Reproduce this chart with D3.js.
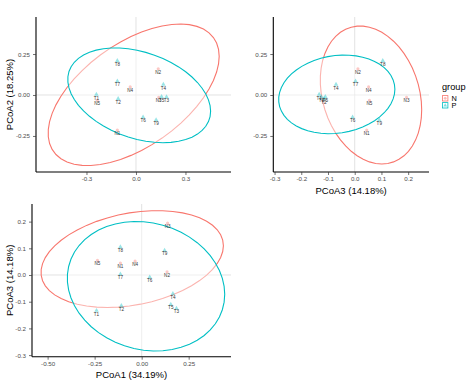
<!DOCTYPE html>
<html>
<head>
<meta charset="utf-8">
<script src="https://cdn.jsdelivr.net/npm/d3@7"></script>
<style>
  html, body { margin: 0; padding: 0; background: #fff; }
  svg { display: block; font-family: "Liberation Sans", Arial, sans-serif; }
</style>
</head>
<body>
<svg id="chart" width="474" height="385"></svg>
<script>
// ---- data ----
const samples = ["N1","N2","N3","N4","N5","T1","T2","T3","T4","T5","T6","T7","T8","T9"];
const groups  = ["N","N","N","N","N","P","P","P","P","P","P","P","P","P"];
const pcoa1   = [-0.113, 0.135, 0.138, -0.035, -0.235, -0.240, -0.108, 0.185, 0.166, 0.155, 0.043, -0.113, -0.113, 0.122];
const pcoa2   = [-0.214, 0.160, -0.014, 0.049, -0.032, 0.003, -0.022, -0.012, 0.064, -0.010, -0.135, 0.085, 0.210, -0.152];
const pcoa3   = [0.045, 0.012, 0.194, 0.052, 0.055, -0.133, -0.115, -0.125, -0.070, -0.110, -0.008, 0.003, 0.105, 0.092];
const groupNames = ["N","P"];
const axisTitles = {pcoa1: "PCoA1 (34.19%)", pcoa2: "PCoA2 (18.25%)", pcoa3: "PCoA3 (14.18%)"};
const ticks1a = [-0.3, 0.0, 0.3];
const ticks2  = [-0.25, 0.00, 0.25];
const ticks3x = [-0.3, -0.2, -0.1, 0.0, 0.1, 0.2];
const ticks1b = [-0.50, -0.25, 0.00, 0.25];
const ticks3y = [-0.3, -0.2, -0.1, 0.0, 0.1, 0.2];

const colors = d3.scaleOrdinal().domain(groupNames).range(["#F8766D", "#00BFC4"]);
const vars = {pcoa1, pcoa2, pcoa3};

// ---- stat_ellipse (type "t", level 0.95) ----
function covTrob(pts) {
  const n = pts.length, p = 2, nu = 5, tol = 0.01;
  let w = pts.map(() => 1);
  let loc = [d3.mean(pts, d => d[0]), d3.mean(pts, d => d[1])];
  let X;
  for (let iter = 0; iter < 25; iter++) {
    const w0 = w.slice();
    X = pts.map(d => [d[0] - loc[0], d[1] - loc[1]]);
    const sw = d3.sum(w);
    let s11 = 0, s12 = 0, s22 = 0;
    X.forEach((x, i) => { const f = w[i] / sw; s11 += f * x[0] * x[0]; s12 += f * x[0] * x[1]; s22 += f * x[1] * x[1]; });
    const det = s11 * s22 - s12 * s12;
    const i11 = s22 / det, i12 = -s12 / det, i22 = s11 / det;
    const Q = X.map(x => x[0] * x[0] * i11 + 2 * x[0] * x[1] * i12 + x[1] * x[1] * i22);
    w = Q.map(q => (nu + p) / (nu + q));
    const sw2 = d3.sum(w);
    loc = [d3.sum(pts, (d, i) => w[i] * d[0]) / sw2, d3.sum(pts, (d, i) => w[i] * d[1]) / sw2];
    if (w.every((v, i) => Math.abs(v - w0[i]) < tol)) break;
  }
  let c11 = 0, c12 = 0, c22 = 0;
  X.forEach((x, i) => { c11 += w[i] * x[0] * x[0]; c12 += w[i] * x[0] * x[1]; c22 += w[i] * x[1] * x[1]; });
  return {center: loc, cov: [c11 / n, c12 / n, c22 / n]};
}
function ellipsePath(pts, level = 0.95, segments = 51) {
  const n = pts.length;
  const d2 = n - 1;
  const F = (d2 / 2) * (Math.pow(1 - level, -2 / d2) - 1); // qf(level, 2, d2)
  const radius = Math.sqrt(2 * F);
  const {center, cov} = covTrob(pts);
  const a = Math.sqrt(cov[0]), b = cov[1] / a, c = Math.sqrt(cov[2] - b * b);
  const out = [];
  for (let k = 0; k <= segments; k++) {
    const t = 2 * Math.PI * k / segments;
    out.push([center[0] + radius * a * Math.cos(t), center[1] + radius * (b * Math.cos(t) + c * Math.sin(t))]);
  }
  return out;
}

const svg = d3.select("#chart");

const panels = [
  {xv: "pcoa1", yv: "pcoa2", xr: [36, 231], yr: [172, 17], xd: [-0.606, 0.576], yd: [-0.47, 0.476],
   xt: ticks1a, xf: d3.format(".1f"), yt: ticks2, yf: d3.format(".2f"), xTitle: false, yTitle: true},
  {xv: "pcoa3", yv: "pcoa2", xr: [273.3, 429], yr: [172, 17], xd: [-0.3047, 0.278], yd: [-0.47, 0.476],
   xt: ticks3x, xf: d3.format(".1f"), yt: ticks2, yf: d3.format(".2f"), xTitle: true, yTitle: false},
  {xv: "pcoa1", yv: "pcoa3", xr: [32, 231], yr: [356.7, 204], xd: [-0.583, 0.475], yd: [-0.306, 0.266],
   xt: ticks1b, xf: d3.format(".2f"), yt: ticks3y, yf: d3.format(".1f"), xTitle: true, yTitle: true}
];

const fmtMinus = f => v => f(v).replace("−", "-");

panels.forEach(P => {
  const x = d3.scaleLinear().domain(P.xd).range(P.xr);
  const y = d3.scaleLinear().domain(P.yd).range(P.yr);
  const g = svg.append("g");

  // reference lines at 0
  g.append("line").attr("x1", x(0)).attr("x2", x(0)).attr("y1", P.yr[0]).attr("y2", P.yr[1])
    .attr("stroke", "#d6d6d6").attr("stroke-width", 0.7);
  g.append("line").attr("x1", P.xr[0]).attr("x2", P.xr[1]).attr("y1", y(0)).attr("y2", y(0))
    .attr("stroke", "#d6d6d6").attr("stroke-width", 0.7);

  const pts = samples.map((s, i) => ({name: s, group: groups[i], x: vars[P.xv][i], y: vars[P.yv][i]}));

  // ellipses
  const line = d3.line().x(d => x(d[0])).y(d => y(d[1]));
  groupNames.forEach(gr => {
    const gp = pts.filter(d => d.group === gr).map(d => [d.x, d.y]);
    const e = ellipsePath(gp);
    g.append("path").attr("d", line(e) + "Z")
      .attr("fill", gr === "P" ? "#ffffff" : "none")
      .attr("fill-opacity", gr === "P" ? 0.45 : 0)
      .attr("stroke", colors(gr)).attr("stroke-width", 1.1);
  });

  // points
  const sym = d3.symbol();
  g.selectAll(".pt").data(pts).enter().append("path")
    .attr("transform", d => `translate(${x(d.x)},${y(d.y)})`)
    .attr("d", d => sym.type(d.group === "N" ? d3.symbolCircle : d3.symbolTriangle).size(d.group === "N" ? 8 : 9)())
    .attr("fill", d => colors(d.group)).attr("fill-opacity", 0.4);

  // labels
  g.selectAll(".lb").data(pts).enter().append("text")
    .attr("x", d => x(d.x)).attr("y", d => y(d.y) + 5)
    .attr("text-anchor", "middle").attr("font-size", 4.6).attr("fill", "#333")
    .text(d => d.name);

  // axes
  const xa = g.append("g").attr("transform", `translate(0,${P.yr[0]})`)
    .call(d3.axisBottom(x).tickValues(P.xt).tickFormat(fmtMinus(P.xf)).tickSize(3).tickPadding(2));
  const ya = g.append("g").attr("transform", `translate(${P.xr[0]},0)`)
    .call(d3.axisLeft(y).tickValues(P.yt).tickFormat(fmtMinus(P.yf)).tickSize(3).tickPadding(3));
  [xa, ya].forEach(a => {
    a.select(".domain").attr("stroke", "#000").attr("stroke-width", 1.1);
    a.selectAll(".tick line").attr("stroke", "#333").attr("stroke-width", 0.7);
    a.selectAll(".tick text").attr("fill", "#4d4d4d").attr("font-size", 6.2)
      .attr("font-family", "'Liberation Sans', Arial, sans-serif");
  });
  xa.select(".domain").attr("d", `M${P.xr[0]},0H${P.xr[1]}`);
  ya.select(".domain").attr("d", `M0,${P.yr[0]}V${P.yr[1]}`);

  if (P.xTitle) {
    g.append("text").attr("x", (P.xr[0] + P.xr[1]) / 2).attr("y", P.yr[0] + 21.5)
      .attr("text-anchor", "middle").attr("font-size", 9.5).attr("fill", "#000")
      .text(axisTitles[P.xv]);
  }
  if (P.yTitle) {
    const cy = (P.yr[0] + P.yr[1]) / 2;
    g.append("text").attr("transform", `translate(13.2,${cy}) rotate(-90)`)
      .attr("text-anchor", "middle").attr("font-size", 9.5).attr("fill", "#000")
      .text(axisTitles[P.yv]);
  }
});

// legend
const lg = svg.append("g").attr("transform", "translate(442,0)");
lg.append("text").attr("x", 0).attr("y", 90).attr("font-size", 9.2).attr("fill", "#000").text("group");
groupNames.forEach((gr, i) => {
  const cy = 98.3 + i * 7;
  lg.append("rect").attr("x", 0.5).attr("y", cy - 2.7).attr("width", 5.4).attr("height", 5.4)
    .attr("fill", "#fff").attr("stroke", colors(gr)).attr("stroke-width", 0.8);
  lg.append("path").attr("transform", `translate(3.2,${cy})`)
    .attr("d", d3.symbol().type(gr === "N" ? d3.symbolCircle : d3.symbolTriangle).size(6)())
    .attr("fill", colors(gr)).attr("fill-opacity", 0.5);
  lg.append("text").attr("x", 9.5).attr("y", cy + 2.6).attr("font-size", 7.4).attr("fill", "#000").text(gr);
});
</script>
</body>
</html>
